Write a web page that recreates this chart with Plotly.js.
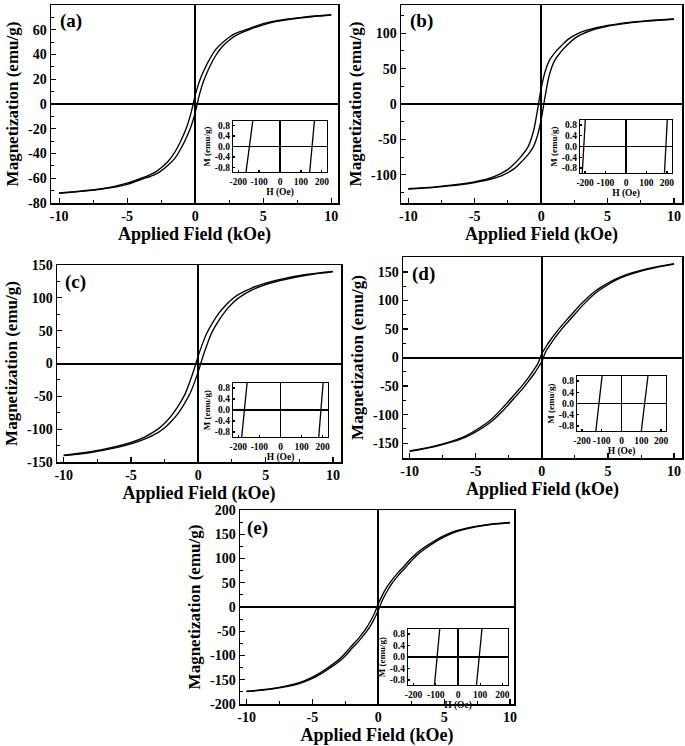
<!DOCTYPE html>
<html><head><meta charset="utf-8">
<script src="https://cdn.plot.ly/plotly-3.0.1.min.js"></script>
<style>html,body{margin:0;padding:0;background:#fff}#chart{width:685px;height:746px}</style>
</head><body><div id="chart"></div>
<script>
// ---- data ----
const H = [-10,-8,-6,-5,-4,-3,-2.5,-2,-1.5,-1,-0.6,-0.3,0,0.3,0.6,1,1.5,2,2.5,3,4,5,6,8,10];
const aUp  = [-71.9,-69.9,-66.7,-64,-60.2,-55.5,-51.5,-46.5,-39,-28.5,-18,-7,7,18,26,35,44,49.5,54,57.2,61,64.9,67.3,70.2,72.1];
const aLow = [-72.1,-70.2,-67.3,-64.9,-61,-57.2,-54,-49.5,-44,-35,-26,-18,-7,7,18,28.5,39,46.5,51.5,55.5,60.2,64,66.7,69.9,71.9];
const bUp  = [-119.8,-117.2,-113,-110,-105.7,-98,-92.5,-84,-74,-61,-40,-11,22,46,61,72,82,91,97,101.5,107.3,111,114,117.8,120.2];
const bLow = [-120.2,-117.8,-114,-111,-107.3,-101.5,-97,-91,-82,-72,-61,-46,-22,11,40,61,74,84,92.5,98,105.7,110,113,117.2,119.8];
const cUp  = [-139.6,-134.4,-126,-120.3,-112,-100,-91,-79.5,-65,-47,-26,-8,12,29.5,45,60,76,88,98,105.2,115.3,122.5,127.8,135.5,140.3];
const cLow = [-140.3,-135.5,-127.8,-122.5,-115.3,-105.2,-98,-88,-76,-60,-45,-29.5,-12,8,26,47,65,79.5,91,100,112,120.3,126,134.4,139.6];
const dUp  = [-163.6,-154.3,-139.7,-127.4,-111.8,-89.1,-76.1,-63.1,-49.7,-34.7,-21.2,-10.6,7,18.4,28.9,41.3,55.9,68.9,81.9,94.6,115.7,130.3,141.8,155.5,164.3];
const dLow = [-164.3,-155.5,-141.8,-130.3,-115.7,-94.6,-81.9,-68.9,-55.9,-41.3,-28.9,-18.4,-7,10.6,21.2,34.7,49.7,63.1,76.1,89.1,111.8,127.4,139.7,154.3,163.6];
const eUp  = [-173.8,-168.1,-156,-144.5,-128.3,-108.5,-95,-79.3,-64.8,-47.4,-29.3,-13.3,6.5,24,38.8,54.5,70.8,85.2,100.6,113,131.6,147.1,157.7,168.8,174.2];
const eLow = [-174.2,-168.8,-157.7,-147.1,-131.6,-113,-100.6,-85.2,-70.8,-54.5,-38.8,-24,-6.5,13.3,29.3,47.4,64.8,79.3,95,108.5,128.3,144.5,156,168.1,173.8];

// insets: field (Oe) of each branch at M = -1 and M = +1 emu/g
const insetM = [-1, 1];
const aInUp = [-163,-130], aInLow = [142,165];
const bInUp = [-214,-199], bInLow = [188,202];
const cInUp = [-184,-158], cInLow = [181,202];
const dInUp = [-130,-98],  dInLow = [100,134];
const eInUp = [-106,-82],  eInLow = [83,108];

const panelLabels = ['(a)','(b)','(c)','(d)','(e)'];
const xTicks = [-10,-5,0,5,10];
const aYTicks = [-80,-60,-40,-20,0,20,40,60,80];
const bYTicks = [-100,-50,0,50,100];
const cYTicks = [-150,-100,-50,0,50,100,150];
const dYTicks = [-150,-100,-50,0,50,100,150];
const eYTicks = [-200,-150,-100,-50,0,50,100,150,200];
const inXTicks = [-200,-100,0,100,200];
const inYTicks = [-0.8,-0.4,0,0.4,0.8];
const inYText = ['-0.8','-0.4','0.0','0.4','0.8'];

// ---- layout geometry (pixels) ----
const W = 685, HT = 746;
const FONT = '"Liberation Serif", "Times New Roman", serif';
const mainBoxes  = [[51,338,5,203],[401,682,5,203],[57,341,265,462],[403,682,257,458],[240,514,510,704]];
const insetBoxes = [[233,327,121,172],[580,672,120,173],[233,328,383,437],[577,666,376,431],[408,508,629,685]];
const xRanges = [[-10.6,10.5],[-10.55,10.6],[-10.5,10.6],[-10.5,10.6],[-10.5,10.3]];
const yRanges = [[-80,80],[-140,140],[-150,150],[-176,176],[-200,200]];
const yMinor  = [10,25,25,25,25];
const labelPos = [[58,21],[408,21],[63,282],[410,274],[245,528]];

const ups = [aUp,bUp,cUp,dUp,eUp], lows = [aLow,bLow,cLow,dLow,eLow];
const inUps = [aInUp,bInUp,cInUp,dInUp,eInUp], inLows = [aInLow,bInLow,cInLow,dInLow,eInLow];
const yTickSets = [aYTicks,bYTicks,cYTicks,dYTicks,eYTicks];

function dx(b){return [b[0]/W, b[1]/W];}
function dy(b){return [1-b[3]/HT, 1-b[2]/HT];}

const traces = [];
const layout = {
  width: W, height: HT, margin:{l:0,r:0,t:0,b:0},
  paper_bgcolor:'#fff', plot_bgcolor:'rgba(0,0,0,0)', showlegend:false,
  font:{family:FONT, color:'#000'}, annotations:[]
};
const lineStyle = {color:'#000', width:1.35, shape:'spline', smoothing:1};

function axisBase(range, domain, anchor){
  return {domain, anchor, range, showline:true, mirror:true, linecolor:'#000', linewidth:1.5,
    showgrid:false, zeroline:true, zerolinecolor:'#000', zerolinewidth:2,
    ticks:'inside', tickcolor:'#000', tickwidth:1.3, automargin:false, fixedrange:true};
}

for (let i=0;i<5;i++){
  const n = i+1, m = i+6;
  const xa = 'x'+(n===1?'':n), ya = 'y'+(n===1?'':n);
  const xi = 'x'+m, yi = 'y'+m;
  traces.push({x:H, y:ups[i], xaxis:xa, yaxis:ya, mode:'lines', line:lineStyle, hoverinfo:'skip'});
  traces.push({x:H, y:lows[i], xaxis:xa, yaxis:ya, mode:'lines', line:lineStyle, hoverinfo:'skip'});
  traces.push({x:inUps[i], y:insetM, xaxis:xi, yaxis:yi, mode:'lines', line:{color:'#000',width:1.3}, hoverinfo:'skip', cliponaxis:true});
  traces.push({x:inLows[i], y:insetM, xaxis:xi, yaxis:yi, mode:'lines', line:{color:'#000',width:1.3}, hoverinfo:'skip', cliponaxis:true});

  const mx = axisBase(xRanges[i], dx(mainBoxes[i]), ya);
  Object.assign(mx, {tickmode:'array', tickvals:xTicks, ticktext:xTicks.map(String), ticklen:5,
    minor:{ticks:'inside', tickmode:'linear', tick0:0, dtick:2.5, ticklen:3, tickcolor:'#000', tickwidth:1},
    tickfont:{family:FONT, size:14, weight:'bold', color:'#000'},
    title:{text:'Applied Field (kOe)', font:{family:FONT, size:18, weight:'bold', color:'#000'}, standoff:1}});
  const my = axisBase(yRanges[i], dy(mainBoxes[i]), xa);
  const yt = yTickSets[i];
  Object.assign(my, {tickmode:'array', tickvals:yt, ticktext:yt.map(String), ticklen:5,
    minor:{ticks:'inside', tickmode:'linear', tick0:0, dtick:yMinor[i], ticklen:3, tickcolor:'#000', tickwidth:1},
    tickfont:{family:FONT, size:14, weight:'bold', color:'#000'},
    title:{text:'Magnetization (emu/g)', font:{family:FONT, size:17, weight:'bold', color:'#000'}, standoff:5}});
  layout['xaxis'+(n===1?'':n)] = mx;
  layout['yaxis'+(n===1?'':n)] = my;

  const ix = axisBase([-225,225], dx(insetBoxes[i]), yi);
  Object.assign(ix, {tickmode:'array', tickvals:inXTicks, ticktext:inXTicks.map(String), ticklen:2, linewidth:1.2, zerolinewidth:1.4,
    tickfont:{family:FONT, size:9.5, weight:'bold', color:'#000'},
    title:{text:'H (Oe)', font:{family:FONT, size:9.5, weight:'bold', color:'#000'}, standoff:0}});
  const iy = axisBase([-0.98,0.98], dy(insetBoxes[i]), xi);
  Object.assign(iy, {tickmode:'array', tickvals:inYTicks, ticktext:inYText, ticklen:2, linewidth:1.2, zerolinewidth:1.4,
    tickfont:{family:FONT, size:9.5, weight:'bold', color:'#000'},
    title:{text:'M (emu/g)', font:{family:FONT, size:9, weight:'bold', color:'#000'}, standoff:2}});
  layout['xaxis'+m] = ix;
  layout['yaxis'+m] = iy;

  layout.annotations.push({text:panelLabels[i], xref:'paper', yref:'paper',
    x:labelPos[i][0]/W, y:1-labelPos[i][1]/HT, xanchor:'left', yanchor:'middle', showarrow:false,
    font:{family:FONT, size:19, weight:'bold', color:'#000'}});
}

Plotly.newPlot('chart', traces, layout, {staticPlot:true, displayModeBar:false});
</script>
</body></html>
